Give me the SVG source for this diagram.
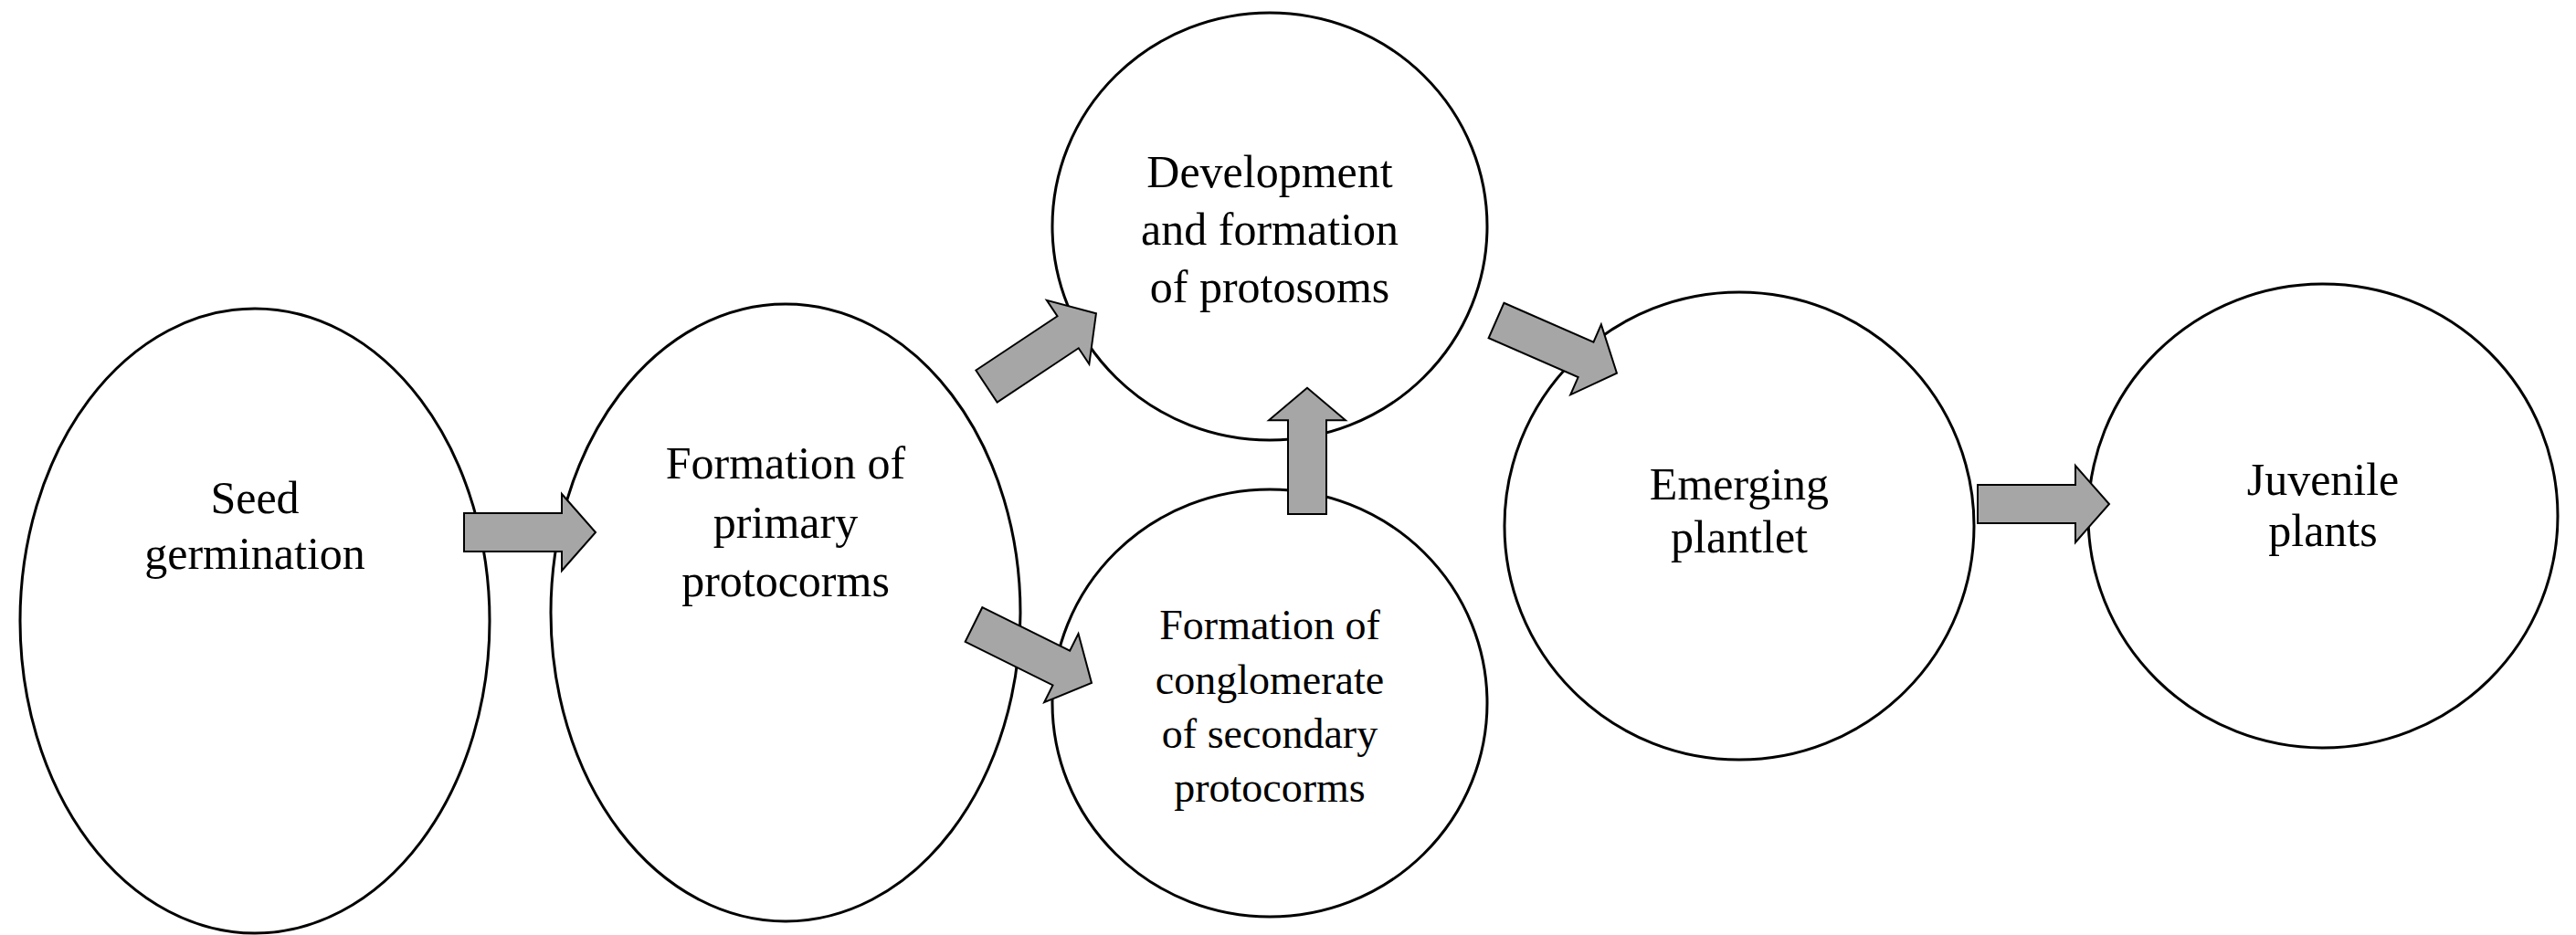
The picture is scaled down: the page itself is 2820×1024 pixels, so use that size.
<svg xmlns="http://www.w3.org/2000/svg" xmlns:xlink="http://www.w3.org/1999/xlink" width="2820" height="1024" viewBox="0 0 2820 1024">
<style>
.n{fill:#fff;stroke:#000;stroke-width:3}
.t{font-family:"Liberation Serif","Times New Roman",serif;font-size:50px;fill:#000;text-anchor:middle}
.s{font-size:46px}
.a{fill:#a6a6a6;stroke:#000;stroke-width:2}
</style>
<defs><polygon id="arr" class="a" points="0,-21 107,-21 107,-42 144,0 107,42 107,21 0,21"/></defs>
<rect width="2820" height="1024" fill="#fff"/>
<g id="seed"><ellipse class="n" cx="279" cy="680" rx="257" ry="342"/><text class="t" x="279" y="562">Seed</text><text class="t" x="279" y="623">germination</text></g>
<g id="primary"><ellipse class="n" cx="860" cy="671" rx="257" ry="338"/><text class="t" x="860" y="524">Formation of</text><text class="t" x="860" y="589">primary</text><text class="t" x="860" y="653">protocorms</text></g>
<g id="dev"><ellipse class="n" cx="1390" cy="248" rx="238" ry="234"/><text class="t" x="1390" y="205">Development</text><text class="t" x="1390" y="268">and formation</text><text class="t" x="1390" y="331">of protosoms</text></g>
<g id="cong"><ellipse class="n" cx="1390" cy="770" rx="238" ry="234"/><text class="t s" x="1390" y="700">Formation of</text><text class="t s" x="1390" y="760">conglomerate</text><text class="t s" x="1390" y="819">of secondary</text><text class="t s" x="1390" y="878">protocorms</text></g>
<g id="emerging"><ellipse class="n" cx="1904" cy="576" rx="257" ry="256"/><text class="t" x="1904" y="547">Emerging</text><text class="t" x="1904" y="605">plantlet</text></g>
<g id="juvenile"><ellipse class="n" cx="2543" cy="565" rx="257" ry="254"/><text class="t" x="2543" y="542">Juvenile</text><text class="t" x="2543" y="598">plants</text></g>
<g id="connectors">
<use xlink:href="#arr" transform="translate(508,583)"/>
<use xlink:href="#arr" transform="translate(1080,423) rotate(-33.6)"/>
<use xlink:href="#arr" transform="translate(1066,684) rotate(26.4)"/>
<use xlink:href="#arr" transform="translate(1431,563) rotate(-90) scale(0.96,1)"/>
<use xlink:href="#arr" transform="translate(1638,351) rotate(23.6)"/>
<use xlink:href="#arr" transform="translate(2165,552)"/>
</g>
</svg>
